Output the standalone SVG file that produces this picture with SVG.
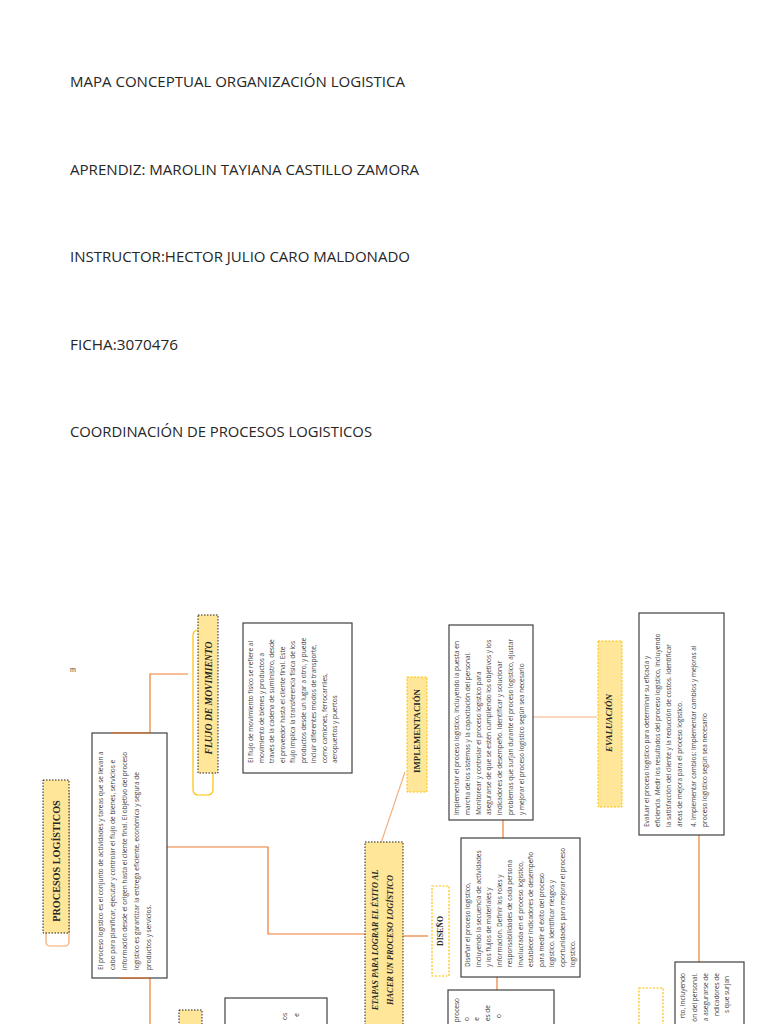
<svg xmlns="http://www.w3.org/2000/svg" width="768" height="1024" viewBox="0 0 768 1024">
<style>
.hdr{font-family:"Open Sans","Liberation Sans",sans-serif;font-size:14px;fill:#262626}
.box{fill:#fff;stroke:#404040;stroke-width:1.2}
.ylw{fill:#FFE699;stroke:#222;stroke-width:1;stroke-dasharray:1.5,1.5}
.ylwg{fill:#FFE699;stroke:#FFC000;stroke-width:1;stroke-dasharray:2,1.5}
.whg{fill:#fff;stroke:#FFC000;stroke-width:1.2;stroke-dasharray:2,1.5}
.lbl{font-family:"Liberation Serif",serif;font-weight:bold;fill:#262626;text-anchor:middle}
.desc{font-family:"Open Sans","Liberation Sans",sans-serif;font-size:6.5px;fill:#404040}
.con{fill:none;stroke:#ED7D31;stroke-width:1.2}
.conl{fill:none;stroke:#F4B183;stroke-width:1.2}
</style>
<rect width="768" height="1024" fill="#fff"/>
<g id="header">
<text class="hdr" x="70" y="86.5" textLength="335" lengthAdjust="spacingAndGlyphs">MAPA CONCEPTUAL ORGANIZACIÓN LOGISTICA</text>
<text class="hdr" x="70" y="175" textLength="349" lengthAdjust="spacingAndGlyphs">APRENDIZ: MAROLIN TAYIANA CASTILLO ZAMORA</text>
<text class="hdr" x="70" y="262" textLength="340" lengthAdjust="spacingAndGlyphs">INSTRUCTOR:HECTOR JULIO CARO MALDONADO</text>
<text class="hdr" x="70" y="350" textLength="108" lengthAdjust="spacingAndGlyphs">FICHA:3070476</text>
<text class="hdr" x="70" y="437" textLength="302" lengthAdjust="spacingAndGlyphs">COORDINACIÓN DE PROCESOS LOGISTICOS</text>
<text x="70" y="672" font-family="Liberation Sans,sans-serif" font-size="7" fill="#404040">m</text>
</g>
<g id="connectors">
<path class="con" d="M112,733 H150 V674 H188"/>
<path class="con" d="M167,847 H268 V934 H365"/>
<path class="con" d="M120,978 H150 V1024"/>
<path class="conl" d="M381,843 L405,772"/>
<path class="con" d="M403,936 H428" stroke="#F08A4B"/>
<path class="conl" d="M533,717 H597"/>
<path class="con" d="M503,820 V838"/>
<path class="con" d="M497,977 V990"/>
<path class="con" d="M699,835 V962"/>
</g>
<g id="procesos-logisticos">
<rect x="46" y="788" width="23" height="158" rx="4" fill="none" stroke="#F4A46A" stroke-width="1.2"/>
<rect class="ylw" x="43" y="780" width="26" height="153"/>
<text class="lbl" font-size="10.2" transform="translate(59.5,861) rotate(-90)">PROCESOS LOGÍSTICOS</text>
</g>
<g id="proceso-desc">
<rect class="box" x="92" y="733" width="75" height="245"/>
<path class="con" d="M112,733 H150 M120,978 H150"/>
<text class="desc" transform="translate(102.5,970) rotate(-90)"><tspan x="0" dy="0">El proceso logístico es el conjunto de actividades y tareas que se llevan a</tspan><tspan x="0" dy="12.1">cabo para planificar, ejecutar y controlar el flujo de bienes, servicios e</tspan><tspan x="0" dy="12.1">información desde el origen hasta el cliente final. El objetivo del proceso</tspan><tspan x="0" dy="12.1">logístico es garantizar la entrega eficiente, económica y segura de</tspan><tspan x="0" dy="12.1">productos y servicios.</tspan></text>
</g>
<g id="flujo-movimiento">
<rect x="193" y="630" width="20" height="165" rx="5" fill="none" stroke="#FFC000" stroke-width="1.2"/>
<rect class="ylw" x="198" y="615" width="20" height="158"/>
<text class="lbl" font-size="9.6" font-style="italic" transform="translate(212,698) rotate(-90)">FLUJO DE MOVIMIENTO</text>
</g>
<g id="flujo-desc">
<rect class="box" x="243" y="623" width="109" height="150"/>
<text class="desc" transform="translate(253,763) rotate(-90)"><tspan x="0" dy="0">El flujo de movimiento físico se refiere al</tspan><tspan x="0" dy="10.5">movimiento de bienes y productos a</tspan><tspan x="0" dy="10.5">través de la cadena de suministro, desde</tspan><tspan x="0" dy="10.5">el proveedor hasta el cliente final. Este</tspan><tspan x="0" dy="10.5">flujo implica la transferencia física de los</tspan><tspan x="0" dy="10.5">productos desde un lugar a otro, y puede</tspan><tspan x="0" dy="10.5">incluir diferentes modos de transporte,</tspan><tspan x="0" dy="10.5">como camiones, ferrocarriles,</tspan><tspan x="0" dy="10.5">aeropuertos y puertos</tspan></text>
</g>
<g id="etapas">
<rect class="ylw" x="365" y="842" width="38" height="190"/>
<text class="lbl" font-size="8.3" font-style="italic" transform="translate(378,940) rotate(-90)"><tspan x="0" dy="0">ETAPAS PARA LOGRAR EL ÉXITO AL</tspan><tspan x="0" dy="14.5">HACER UN PROCESO LOGÍSTICO</tspan></text>
</g>
<g id="implementacion">
<rect class="ylwg" x="407" y="677" width="20" height="115"/>
<text class="lbl" font-size="8.8" transform="translate(420,731) rotate(-90)">IMPLEMENTACIÓN</text>
</g>
<g id="implementacion-desc">
<rect class="box" x="449" y="625" width="84" height="195"/>
<text class="desc" transform="translate(459,815) rotate(-90)"><tspan x="0" dy="0">Implementar el proceso logístico, incluyendo la puesta en</tspan><tspan x="0" dy="10.8">marcha de los sistemas y la capacitación del personal.</tspan><tspan x="0" dy="10.8">Monitorear y controlar el proceso logístico para</tspan><tspan x="0" dy="10.8">asegurarse de que se estén cumpliendo los objetivos y los</tspan><tspan x="0" dy="10.8">indicadores de desempeño. Identificar y solucionar</tspan><tspan x="0" dy="10.8">problemas que surjan durante el proceso logístico, ajustar</tspan><tspan x="0" dy="10.8">y mejorar el proceso logístico según sea necesario</tspan></text>
</g>
<g id="evaluacion">
<rect class="ylwg" x="598" y="641" width="24" height="166"/>
<text class="lbl" font-size="9" font-style="italic" transform="translate(612,723) rotate(-90)">EVALUACIÓN</text>
</g>
<g id="evaluacion-desc">
<rect class="box" x="639" y="613" width="85" height="222"/>
<text class="desc" transform="translate(649,827) rotate(-90)"><tspan x="0" dy="0">Evaluar el proceso logístico para determinar su eficacia y</tspan><tspan x="0" dy="11">eficiencia. Medir los resultados del proceso logístico, incluyendo</tspan><tspan x="0" dy="11">la satisfacción del cliente y la reducción de costos. Identificar</tspan><tspan x="0" dy="11">áreas de mejora para el proceso logístico.</tspan><tspan x="0" dy="14">4. Implementar cambios: Implementar cambios y mejoras al</tspan><tspan x="0" dy="11">proceso logístico según sea necesario</tspan></text>
</g>
<g id="diseno">
<rect class="whg" x="432" y="886" width="17" height="90"/>
<text class="lbl" font-size="7.8" transform="translate(443,931) rotate(-90)">DISEÑO</text>
</g>
<g id="diseno-desc">
<rect class="box" x="461" y="838" width="119" height="139"/>
<text class="desc" transform="translate(470,967) rotate(-90)"><tspan x="0" dy="0">Diseñar el proceso logístico,</tspan><tspan x="0" dy="10.5">incluyendo la secuencia de actividades</tspan><tspan x="0" dy="10.5">y los flujos de materiales y</tspan><tspan x="0" dy="10.5">información. Definir los roles y</tspan><tspan x="0" dy="10.5">responsabilidades de cada persona</tspan><tspan x="0" dy="10.5">involucrada en el proceso logístico,</tspan><tspan x="0" dy="10.5">establecer indicadores de desempeño</tspan><tspan x="0" dy="10.5">para medir el éxito del proceso</tspan><tspan x="0" dy="10.5">logístico. Identificar riesgos y</tspan><tspan x="0" dy="10.5">oportunidades para mejorar el proceso</tspan><tspan x="0" dy="10.5">logístico.</tspan></text>
</g>
<g id="bottom-box-center">
<rect class="box" x="448" y="990" width="106" height="50"/>
<g class="desc" text-anchor="end">
<text transform="translate(459,998) rotate(-90)">proceso</text>
<text transform="translate(469,1017) rotate(-90)">o</text>
<text transform="translate(479,1017) rotate(-90)">e</text>
<text transform="translate(490,1005) rotate(-90)">es de</text>
<text transform="translate(501,1014) rotate(-90)">o</text>
</g>
</g>
<g id="bottom-box-right">
<rect class="box" x="675" y="962" width="69" height="80"/>
<g class="desc" text-anchor="end">
<text transform="translate(685,973) rotate(-90)">rto, incluyendo</text>
<text transform="translate(697,973) rotate(-90)">ón del personal.</text>
<text transform="translate(708,973) rotate(-90)">a asegurarse de</text>
<text transform="translate(719,973) rotate(-90)">ndicadores de</text>
<text transform="translate(729,976) rotate(-90)">s que surjan</text>
</g>
</g>
<g id="bottom-node-right">
<rect class="whg" x="639" y="988" width="24" height="50"/>
</g>
<g id="bottom-node-left">
<rect class="ylw" x="179" y="1010" width="23" height="30"/>
</g>
<g id="bottom-box-left">
<rect class="box" x="225" y="998" width="102" height="40"/>
<g class="desc" text-anchor="end">
<text transform="translate(287,1013) rotate(-90)">os</text>
<text transform="translate(299,1013) rotate(-90)">e</text>
</g>
</g>
</svg>
